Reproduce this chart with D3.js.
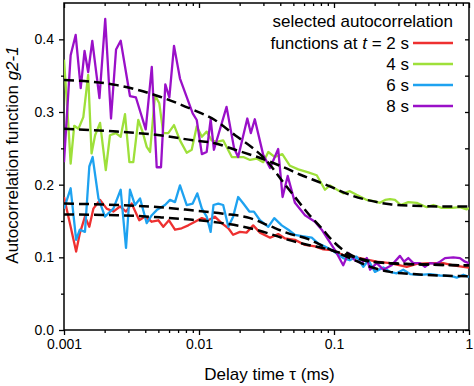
<!DOCTYPE html>
<html>
<head>
<meta charset="utf-8">
<script src="https://cdn.jsdelivr.net/npm/d3@7"></script>
<style>
  body { margin: 0; background: #fff; }
  svg { font-family: "Liberation Sans", Arial, sans-serif; }
</style>
</head>
<body>
<div class="chart"></div>
<script>
// g2-1 autocorrelation curves, [delay time (ms), value]
var g2s = [[0.001,0.183],[0.00112,0.142],[0.00123,0.108],[0.00131,0.133],[0.00143,0.156],[0.00154,0.142],[0.00165,0.167],[0.00185,0.179],[0.00207,0.167],[0.00232,0.163],[0.0026,0.170],[0.00288,0.163],[0.00317,0.174],[0.00361,0.151],[0.00398,0.156],[0.00447,0.149],[0.005,0.151],[0.00544,0.142],[0.00599,0.151],[0.00664,0.138],[0.00744,0.140],[0.00833,0.144],[0.00934,0.149],[0.0105,0.154],[0.0117,0.151],[0.0131,0.156],[0.0147,0.147],[0.0165,0.140],[0.0179,0.131],[0.0201,0.135],[0.0225,0.134],[0.0252,0.144],[0.0283,0.134],[0.0336,0.127],[0.0386,0.132],[0.0434,0.126],[0.0514,0.124],[0.061,0.117],[0.0723,0.115],[0.0833,0.111],[0.0962,0.110],[0.117,0.103],[0.156,0.099],[0.207,0.094],[0.26,0.092],[0.346,0.087],[0.41,0.091],[0.514,0.092],[0.645,0.092],[0.765,0.089],[0.908,0.087],[1,0.086]];

var g4s = [[0.001,0.372],[0.00108,0.279],[0.00112,0.229],[0.00119,0.281],[0.00128,0.277],[0.00139,0.293],[0.00151,0.351],[0.0016,0.243],[0.0017,0.268],[0.00185,0.285],[0.00204,0.220],[0.00219,0.268],[0.00242,0.271],[0.00263,0.266],[0.00283,0.297],[0.00305,0.231],[0.00326,0.231],[0.00355,0.289],[0.00383,0.272],[0.0041,0.252],[0.00434,0.245],[0.00472,0.323],[0.00508,0.312],[0.00544,0.271],[0.00592,0.271],[0.00653,0.282],[0.00723,0.261],[0.00811,0.244],[0.00883,0.248],[0.00962,0.280],[0.0105,0.266],[0.0114,0.273],[0.0124,0.261],[0.0135,0.259],[0.0151,0.261],[0.0175,0.238],[0.019,0.238],[0.0213,0.238],[0.0239,0.234],[0.0267,0.236],[0.0299,0.231],[0.0326,0.245],[0.0365,0.238],[0.0414,0.242],[0.0472,0.226],[0.0544,0.221],[0.0645,0.217],[0.0745,0.213],[0.0857,0.193],[0.0934,0.199],[0.117,0.188],[0.131,0.191],[0.147,0.186],[0.175,0.179],[0.201,0.177],[0.219,0.175],[0.239,0.179],[0.26,0.180],[0.283,0.179],[0.312,0.172],[0.355,0.176],[0.41,0.175],[0.486,0.169],[0.544,0.172],[0.628,0.168],[0.745,0.168],[0.857,0.169],[0.962,0.166],[1,0.168]];

var g6s = [[0.001,0.167],[0.00112,0.195],[0.00123,0.124],[0.00131,0.138],[0.00143,0.135],[0.00154,0.225],[0.00163,0.238],[0.0018,0.181],[0.00201,0.156],[0.00232,0.167],[0.00263,0.193],[0.00288,0.113],[0.00308,0.193],[0.00336,0.172],[0.00366,0.181],[0.0041,0.147],[0.00447,0.158],[0.00486,0.165],[0.0056,0.172],[0.0061,0.179],[0.00664,0.176],[0.00723,0.199],[0.00811,0.172],[0.00898,0.174],[0.00971,0.188],[0.0105,0.167],[0.0114,0.156],[0.0122,0.135],[0.0128,0.172],[0.0139,0.174],[0.0151,0.172],[0.0165,0.142],[0.0179,0.156],[0.0195,0.183],[0.0213,0.174],[0.0236,0.163],[0.0255,0.163],[0.0283,0.151],[0.0326,0.142],[0.0361,0.154],[0.041,0.144],[0.0459,0.138],[0.0514,0.131],[0.0593,0.129],[0.0684,0.127],[0.0765,0.119],[0.0857,0.115],[0.0962,0.110],[0.117,0.099],[0.131,0.096],[0.147,0.101],[0.165,0.087],[0.18,0.096],[0.201,0.080],[0.232,0.086],[0.26,0.080],[0.291,0.078],[0.326,0.083],[0.366,0.077],[0.434,0.076],[0.514,0.077],[0.61,0.075],[0.745,0.074],[0.811,0.072],[0.908,0.076],[1,0.073]];

var g8s = [[0.001,0.231],[0.00112,0.378],[0.00122,0.406],[0.00133,0.333],[0.00142,0.384],[0.00151,0.355],[0.00162,0.398],[0.00183,0.319],[0.00202,0.428],[0.00223,0.291],[0.00243,0.386],[0.00263,0.398],[0.00308,0.322],[0.00341,0.320],[0.00403,0.276],[0.00447,0.362],[0.00486,0.224],[0.00523,0.224],[0.00563,0.338],[0.00603,0.320],[0.00653,0.391],[0.00723,0.346],[0.00898,0.298],[0.00962,0.289],[0.0105,0.242],[0.0114,0.245],[0.0122,0.290],[0.0129,0.248],[0.016,0.307],[0.0182,0.250],[0.0195,0.238],[0.0228,0.291],[0.0242,0.271],[0.0259,0.290],[0.0299,0.241],[0.0336,0.223],[0.0386,0.249],[0.0416,0.183],[0.0454,0.212],[0.0514,0.175],[0.061,0.158],[0.0723,0.149],[0.0811,0.138],[0.0907,0.124],[0.1017,0.110],[0.117,0.089],[0.128,0.106],[0.143,0.096],[0.16,0.092],[0.175,0.099],[0.185,0.083],[0.207,0.092],[0.232,0.083],[0.267,0.089],[0.308,0.102],[0.33,0.094],[0.355,0.099],[0.387,0.092],[0.434,0.092],[0.472,0.087],[0.514,0.092],[0.57,0.091],[0.61,0.094],[0.664,0.099],[0.765,0.100],[0.857,0.099],[0.934,0.094],[1,0.092]];

// fitted curves (dashed)
var fit2s = [[0.001,0.159],[0.00247,0.158],[0.00514,0.155],[0.00858,0.152],[0.0151,0.147],[0.0239,0.140],[0.0326,0.133],[0.0459,0.124],[0.0645,0.117],[0.0907,0.111],[0.131,0.102],[0.185,0.094],[0.26,0.092],[0.514,0.090],[1,0.089]];
var fit4s = [[0.001,0.277],[0.00247,0.273],[0.00514,0.268],[0.00903,0.261],[0.0131,0.257],[0.0185,0.248],[0.0291,0.236],[0.041,0.225],[0.0576,0.213],[0.0765,0.204],[0.095,0.197],[0.131,0.186],[0.185,0.178],[0.26,0.173],[0.387,0.171],[0.61,0.170],[1,0.170]];
var fit6s = [[0.001,0.174],[0.00247,0.172],[0.00514,0.169],[0.00858,0.165],[0.0151,0.160],[0.0239,0.154],[0.0326,0.144],[0.0459,0.133],[0.0645,0.125],[0.0907,0.112],[0.131,0.099],[0.185,0.087],[0.26,0.080],[0.387,0.077],[0.61,0.075],[1,0.074]];
var fit8s = [[0.001,0.344],[0.00247,0.337],[0.00514,0.321],[0.00903,0.303],[0.0131,0.289],[0.0185,0.268],[0.0252,0.250],[0.0317,0.233],[0.041,0.206],[0.0514,0.183],[0.0645,0.160],[0.0811,0.140],[0.0962,0.124],[0.117,0.110],[0.131,0.104],[0.165,0.097],[0.219,0.093],[0.3,0.091],[0.5,0.090],[1,0.089]];

var seriesNames = ['2 s', '4 s', '6 s', '8 s'];
var seriesColors = ['#ee3030', '#9ee03a', '#1ea2f0', '#9a10c8'];
var xTicks = [0.001, 0.01, 0.1, 1];
var xTickLabels = ['0.001', '0.01', '0.1', '1'];
var yTicks = [0, 0.1, 0.2, 0.3, 0.4];
var yTickLabels = ['0.0', '0.1', '0.2', '0.3', '0.4'];

var width = 474, height = 386;
var plotL = 64, plotR = 469, plotT = 3, plotB = 330;

var xScale = d3.scaleLog()
  .domain([0.001, 1])
  .range([plotL, plotR]);

var yScale = d3.scaleLinear()
  .domain([0, 0.45])
  .range([plotB, plotT]);

var svg = d3.select('.chart').append('svg')
  .attr('width', width)
  .attr('height', height);

svg.append('defs').append('clipPath')
  .attr('id', 'plot')
  .append('rect')
  .attr('x', plotL).attr('y', plotT)
  .attr('width', plotR - plotL).attr('height', plotB - plotT);

// minor ticks on the log axis: 2..9 in each decade
var xMinor = [];
xTicks.slice(0, -1).forEach(function(d) {
  for (var k = 2; k < 10; k++) xMinor.push(d * k);
});
var yMinor = [0.05, 0.15, 0.25, 0.35];
var yRight = yTicks.concat(yMinor);

function styleAxis(g) {
  g.select('.domain').remove();
  g.selectAll('line').attr('stroke', '#000').attr('stroke-width', 1.3);
  g.selectAll('text').attr('fill', '#000').style('font-size', '14px');
}

// bottom axis
svg.append('g')
  .attr('transform', 'translate(0,' + plotB + ')')
  .call(d3.axisBottom(xScale).tickValues(xMinor).tickSize(3).tickFormat(''))
  .call(styleAxis);
svg.append('g')
  .attr('transform', 'translate(0,' + plotB + ')')
  .call(d3.axisBottom(xScale).tickValues(xTicks).tickSize(5).tickPadding(4)
    .tickFormat(function(d, i) { return xTickLabels[i]; }))
  .call(styleAxis);

// top axis (ticks inward)
svg.append('g')
  .attr('transform', 'translate(0,' + plotT + ')')
  .call(d3.axisTop(xScale).tickValues(xMinor).tickSize(-3).tickFormat(''))
  .call(styleAxis);
svg.append('g')
  .attr('transform', 'translate(0,' + plotT + ')')
  .call(d3.axisTop(xScale).tickValues(xTicks).tickSize(-5).tickFormat(''))
  .call(styleAxis);

// left axis
svg.append('g')
  .attr('transform', 'translate(' + plotL + ',0)')
  .call(d3.axisLeft(yScale).tickValues(yMinor).tickSize(3).tickFormat(''))
  .call(styleAxis);
svg.append('g')
  .attr('transform', 'translate(' + plotL + ',0)')
  .call(d3.axisLeft(yScale).tickValues(yTicks).tickSize(5).tickPadding(5)
    .tickFormat(function(d, i) { return yTickLabels[i]; }))
  .call(styleAxis);

// right axis (ticks inward)
svg.append('g')
  .attr('transform', 'translate(' + plotR + ',0)')
  .call(d3.axisRight(yScale).tickValues(yRight).tickSize(-4).tickFormat(''))
  .call(styleAxis);

// frame
svg.append('rect')
  .attr('x', plotL).attr('y', plotT)
  .attr('width', plotR - plotL).attr('height', plotB - plotT)
  .attr('fill', 'none')
  .attr('stroke', '#000')
  .attr('stroke-width', 1.5);

var line = d3.line()
  .x(function(d) { return xScale(d[0]); })
  .y(function(d) { return yScale(d[1]); });

var fitLine = d3.line()
  .curve(d3.curveMonotoneX)
  .x(function(d) { return xScale(d[0]); })
  .y(function(d) { return yScale(d[1]); });

var plot = svg.append('g').attr('clip-path', 'url(#plot)');

plot.selectAll('path.data')
  .data([g2s, g4s, g6s, g8s])
  .enter()
  .append('path')
    .attr('class', 'data')
    .attr('d', line)
    .attr('fill', 'none')
    .attr('stroke', function(d, i) { return seriesColors[i]; })
    .attr('stroke-width', 2.3)
    .attr('stroke-linejoin', 'round');

plot.selectAll('path.fit')
  .data([fit2s, fit4s, fit6s, fit8s])
  .enter()
  .append('path')
    .attr('class', 'fit')
    .attr('d', fitLine)
    .attr('fill', 'none')
    .attr('stroke', '#000')
    .attr('stroke-width', 2.5)
    .attr('stroke-dasharray', '10,5');

// legend
var legend = svg.append('g').style('font-size', '17px');
legend.append('text')
  .attr('x', 453).attr('y', 27)
  .attr('text-anchor', 'end')
  .text('selected autocorrelation');

var rows = legend.selectAll('g.row')
  .data(seriesNames)
  .enter()
  .append('g')
    .attr('class', 'row')
    .attr('transform', function(d, i) { return 'translate(0,' + (43 + i * 21) + ')'; });

rows.append('line')
  .attr('x1', 413).attr('x2', 453)
  .attr('stroke', function(d, i) { return seriesColors[i]; })
  .attr('stroke-width', 2.3);

var rowText = rows.append('text')
  .attr('x', 409).attr('y', 6)
  .attr('text-anchor', 'end');
rowText.each(function(d, i) {
  var t = d3.select(this);
  if (i === 0) {
    t.append('tspan').text('functions at ');
    t.append('tspan').style('font-style', 'italic').text('t');
    t.append('tspan').text(' = ' + d);
  } else {
    t.text(d);
  }
});

// axis titles
svg.append('text')
  .attr('x', (plotL + plotR) / 2 + 3)
  .attr('y', 380)
  .attr('text-anchor', 'middle')
  .style('font-size', '17px')
  .text('Delay time \u03c4 (ms)');

var yTitle = svg.append('text')
  .attr('transform', 'translate(18,155) rotate(-90)')
  .attr('text-anchor', 'middle')
  .style('font-size', '17px');
yTitle.append('tspan').text('Autocorrelation function ');
yTitle.append('tspan').style('font-style', 'italic').text('g2-1');
</script>
</body>
</html>
